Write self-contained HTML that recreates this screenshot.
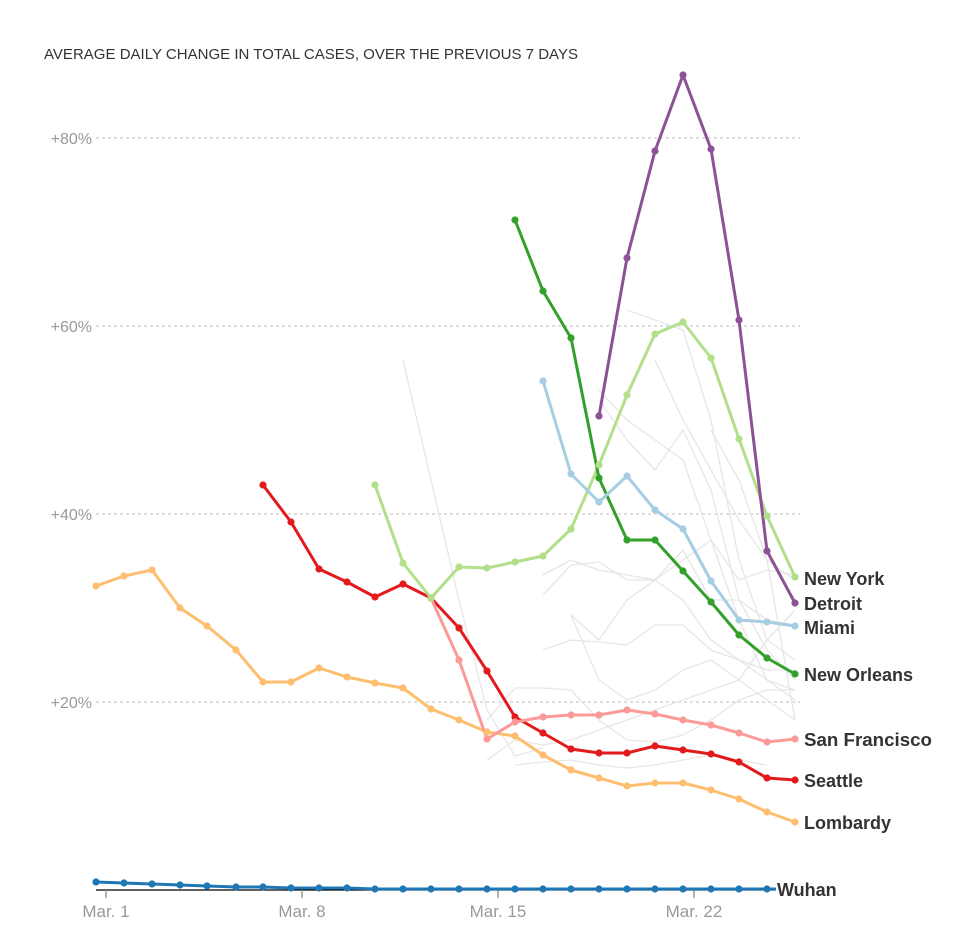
<!DOCTYPE html>
<html><head><meta charset="utf-8"><style>
body{margin:0;background:#fff;width:979px;height:945px;overflow:hidden}
svg{display:block;font-family:"Liberation Sans",sans-serif}
</style></head><body>
<svg width="979" height="945" viewBox="0 0 979 945">
<text x="44" y="59" font-size="15" fill="#333" textLength="534" lengthAdjust="spacingAndGlyphs">AVERAGE DAILY CHANGE IN TOTAL CASES, OVER THE PREVIOUS 7 DAYS</text>
<g stroke="#ccc" stroke-dasharray="3,3" stroke-width="1.2">
<line x1="96" x2="800" y1="138" y2="138"/><line x1="96" x2="800" y1="326" y2="326"/>
<line x1="96" x2="800" y1="514" y2="514"/><line x1="96" x2="800" y1="702" y2="702"/>
</g>
<g font-size="16" fill="#999" text-anchor="end">
<text x="92" y="144">+80%</text><text x="92" y="332">+60%</text><text x="92" y="520">+40%</text><text x="92" y="708">+20%</text>
</g>
<line x1="96" x2="776" y1="890" y2="890" stroke="#000" stroke-width="1.2"/>
<g stroke="#999" stroke-width="1.5"><line x1="106" x2="106" y1="890" y2="898"/><line x1="302" x2="302" y1="890" y2="898"/><line x1="498" x2="498" y1="890" y2="898"/><line x1="694" x2="694" y1="890" y2="898"/></g>
<g font-size="17" fill="#999" text-anchor="middle"><text x="106" y="917">Mar. 1</text><text x="302" y="917">Mar. 8</text><text x="498" y="917">Mar. 15</text><text x="694" y="917">Mar. 22</text></g>
<g fill="none" stroke="#e6e6e6" stroke-width="1.3">
<polyline points="403,360 431,480 459,600 487,710 515,756 543,748"/>
<polyline points="599,390 627,420 655,440 683,460 711,540 739,620 767,680 795,700"/>
<polyline points="627,310 655,320 683,330 711,420 739,560 767,640 795,660"/>
<polyline points="599,400 627,440 655,470 683,430 711,490 739,600 767,650 795,680"/>
<polyline points="543,575 571,560 599,570 627,575 655,580 683,600 711,640 739,660 767,680 795,690"/>
<polyline points="543,595 571,565 599,562 627,580 655,580 683,560 711,540 739,580 767,570 795,575"/>
<polyline points="571,615 599,640 627,600 655,580 683,550 711,600 739,600 767,620 795,625"/>
<polyline points="543,650 571,640 599,642 627,645 655,625 683,625 711,650 739,660 767,670 795,670"/>
<polyline points="571,615 599,680 627,700 655,690 683,670 711,660 739,680 767,700 795,720"/>
<polyline points="487,720 515,688 543,688 571,690 599,720 627,740 655,742 683,735 711,720 739,700 767,690 795,690"/>
<polyline points="487,760 515,740 543,745 571,740 599,730 627,720 655,710 683,700 711,690 739,680 767,640 795,610"/>
<polyline points="515,765 543,762 571,760 599,765 627,768 655,765 683,760 711,755 739,760 767,765"/>
<polyline points="655,360 683,420 711,470 739,520 767,560 795,580"/>
<polyline points="711,430 739,480 767,560 795,720"/>
</g>
<g fill="none" stroke-width="3" stroke-linejoin="round">
<polyline stroke="#fdbf6f" points="96,586 124,576 152,570 180,608 207,626 236,650 263,682 291,682 319,668 347,677 375,683 403,688 431,709 459,720 487,732 515,736 543,755 571,770 599,778 627,786 655,783 683,783 711,790 739,799 767,812 795,822"/>
<polyline stroke="#e31a1c" points="263,485 291,522 319,569 347,582 375,597 403,584 431,598 459,628 487,671 515,717 543,733 571,749 599,753 627,753 655,746 683,750 711,754 739,762 767,778 795,780"/>
<polyline stroke="#fb9a99" points="431,598 459,660 487,739 515,722 543,717 571,715 599,715 627,710 655,714 683,720 711,725 739,733 767,742 795,739"/>
<polyline stroke="#b2df8a" points="375,485 403,563 431,598 459,567 487,568 515,562 543,556 571,529 599,465 627,395 655,334 683,322 711,358 739,439 767,516 795,577"/>
<polyline stroke="#33a02c" points="515,220 543,291 571,338 599,478 627,540 655,540 683,571 711,602 739,635 767,658 795,674"/>
<polyline stroke="#a6cee3" points="543,381 571,474 599,502 627,476 655,510 683,529 711,581 739,620 767,622 795,626"/>
<polyline stroke="#8c5196" points="599,416 627,258 655,151 683,75 711,149 739,320 767,551 795,603"/>
<polyline stroke="#1f78b4" points="96,882 124,883 152,884 180,885 207,886 236,887 263,887 291,888 319,888 347,888 375,889 403,889 431,889 459,889 487,889 515,889 543,889 571,889 599,889 627,889 655,889 683,889 711,889 739,889 767,889 776,889"/>
</g>
<g id="dots"></g>
<g font-size="18" font-weight="bold" fill="#333">
<text x="804" y="585">New York</text><text x="804" y="610">Detroit</text><text x="804" y="634">Miami</text>
<text x="804" y="681">New Orleans</text><text x="804" y="746" textLength="128" lengthAdjust="spacingAndGlyphs">San Francisco</text><text x="804" y="787">Seattle</text>
<text x="804" y="829">Lombardy</text><text x="777" y="896">Wuhan</text>
</g>
</svg>
<script>
var g=document.getElementById('dots');
document.querySelectorAll('g[stroke-width="3"] polyline').forEach(function(p){
var c=p.getAttribute('stroke');
p.getAttribute('points').trim().split(/\s+/).forEach(function(pt,i,a){
var xy=pt.split(',');if(c=='#1f78b4'&&i==a.length-1)return;
var e=document.createElementNS('http://www.w3.org/2000/svg','circle');
e.setAttribute('cx',xy[0]);e.setAttribute('cy',xy[1]);e.setAttribute('r',3.6);e.setAttribute('fill',c);g.appendChild(e);});});
</script>
</body></html>
